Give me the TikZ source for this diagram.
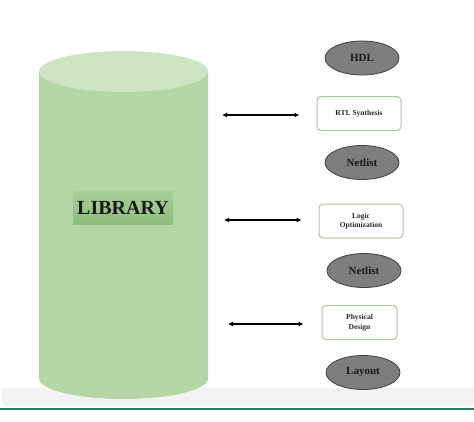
\documentclass[tikz,border=0pt]{standalone}
\usepackage{fontspec}
\setmainfont{Liberation Serif}
\usetikzlibrary{shapes, arrows.meta, positioning, calc}

\definecolor{libbody}{HTML}{B3D6A4}
\definecolor{libtop}{HTML}{CDE4C2}
\definecolor{libdark}{HTML}{8EBD7F}
\definecolor{libmid}{HTML}{A6CF97}
\definecolor{ovalfill}{HTML}{7E7E7E}
\definecolor{ovaledge}{HTML}{3F3F3F}
\definecolor{boxedge}{HTML}{AFC4A7}
\definecolor{bandgray}{HTML}{F2F2F2}
\definecolor{rulegreen}{HTML}{2E7D5C}

\tikzset{
  stage/.style={draw=ovaledge, ellipse, fill=ovalfill, line width=0.8pt,
    minimum width=74pt, minimum height=34pt, inner sep=0pt,
    font=\fontsize{11}{12}\selectfont\bfseries, text=black!90},
  stepbox/.style={draw=boxedge, rounded corners=4pt, fill=white, line width=1pt,
    minimum width=84pt, minimum height=34pt, inner sep=1pt, align=center,
    font=\fontsize{7.5}{9.5}\selectfont\bfseries, text=black!85},
  link/.style={line width=1.1pt, {Latex[length=5pt,width=5pt]}-{Latex[length=5pt,width=5pt]}},
}

\begin{document}
\begin{tikzpicture}[x=1pt, y=-1pt]
    \useasboundingbox (0,0) rectangle (474,421);

    % bottom strip
    \fill[bandgray] (2,388) rectangle (474,406);
    \draw[rulegreen, line width=2.5pt] (0,409) -- (474,409);

    % library cylinder
    \fill[libbody] (39,71.5) -- (39,378.5)
      arc[start angle=180, end angle=0, x radius=84.5, y radius=20.5]
      -- (208,71.5) -- cycle;
    \fill[libtop] (123.5,71.5) ellipse[x radius=84.5, y radius=20.5];
    \node[top color=libmid, bottom color=libdark, minimum width=100pt,
      minimum height=33pt, font=\fontsize{20}{22}\selectfont\bfseries,
      text=black!90] (lib) at (123,207.5) {LIBRARY};

    % flow on the right
    \node[stage] (hdl) at (362,58) {HDL};
    \node[stepbox] (rtl) at (359,113.5) {RTL Synthesis};
    \node[stage] (net1) at (362,162.5) {Netlist};
    \node[stepbox] (logic) at (361,221) {Logic\\Optimization};
    \node[stage] (net2) at (364,270.5) {Netlist};
    \node[stepbox, minimum width=75pt] (phys) at (359.5,322.5) {Physical\\Design};
    \node[stage] (layout) at (363,372.5) {Layout};

    % links to the library
    \coordinate (a1) at (222,115);
    \coordinate (a2) at (224,220);
    \coordinate (a3) at (228,324);

    \draw[link, shorten >=17pt] (a1) -- (a1 -| rtl.west);
    \draw[link, shorten >=17pt] (a2) -- (a2 -| logic.west);
    \draw[link, shorten >=18pt] (a3) -- (a3 -| phys.west);
  \end{tikzpicture}
\end{document}
